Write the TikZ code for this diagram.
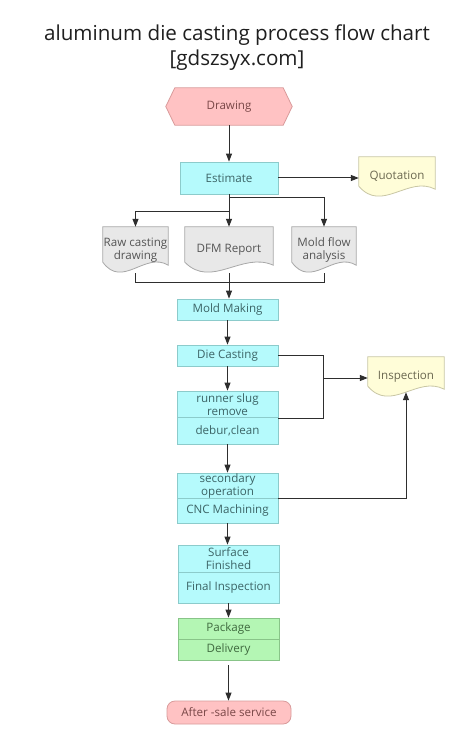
\documentclass[tikz,border=0pt]{standalone}
\usepackage{fontspec}
\setmainfont{Open Sans}
\usetikzlibrary{arrows.meta,calc}
\pgfdeclarelayer{bg}
\pgfsetlayers{bg,main}
\definecolor{pinkF}{HTML}{FFC2C3}
\definecolor{pinkD}{HTML}{D99B9B}
\definecolor{pinkT}{HTML}{7A4848}
\definecolor{cyanF}{HTML}{B5FAFC}
\definecolor{cyanD}{HTML}{8CCBCB}
\definecolor{cyanT}{HTML}{3C6466}
\definecolor{grayF}{HTML}{E8E8E8}
\definecolor{grayD}{HTML}{A8A8A8}
\definecolor{grayT}{HTML}{555555}
\definecolor{yelF}{HTML}{FFFDD8}
\definecolor{yelD}{HTML}{C9C7A5}
\definecolor{yelT}{HTML}{6B6850}
\definecolor{grnF}{HTML}{B4F6B4}
\definecolor{grnD}{HTML}{88C488}
\definecolor{grnT}{HTML}{3F6A3F}
\definecolor{lineC}{HTML}{2E2E2E}
\newcommand\docshape[3]{%
  \begin{pgfonlayer}{bg}
  \path[fill=#2,draw=#3,line width=0.8pt]
    (#1.north west) -- (#1.north east) -- ($(#1.south east)+(0,-8)$)
    .. controls ($(#1.south west)!0.65!(#1.south east)+(0,-22)$)
    and ($(#1.south west)!0.3!(#1.south east)+(0,16)$) .. ($(#1.south west)+(0,-11)$) -- cycle;
  \end{pgfonlayer}}
\tikzset{
  nodefont/.style={font=\fontsize{11.6}{13}\selectfont},
  box/.style={nodefont, draw=cyanD, fill=cyanF, text=cyanT, minimum width=101pt, inner sep=0pt, align=center, line width=0.8pt},
  gbox/.style={nodefont, draw=grnD, fill=grnF, text=grnT, minimum width=101pt, inner sep=0pt, align=center, line width=0.8pt},
  docnode/.style={nodefont, inner sep=0pt, align=center},
  arr/.style={-{Triangle[length=8pt,width=6pt]}, draw=lineC, line width=1pt},
  ln/.style={draw=lineC, line width=1pt},
}
\begin{document}
\begin{tikzpicture}[x=1pt,y=-1pt]
\useasboundingbox (0,0) rectangle (474,743);
\begin{pgfonlayer}{bg}
\fill[white] (0,0) rectangle (474,743);
\end{pgfonlayer}
\node[font=\fontsize{20.6}{25}\selectfont, align=center, text=black!88] (title) at (237,48)
  {aluminum die casting process flow chart\\{[}gdszsyx.com{]}};
% Drawing (hexagon)
\node[nodefont, text=pinkT, minimum width=126pt, minimum height=37pt, inner sep=0pt] (drw) at (229,106.5) {Drawing};
\begin{pgfonlayer}{bg}
\path[fill=pinkF, draw=pinkD, line width=0.8pt]
  ([xshift=9pt]drw.north west) -- ([xshift=-9pt]drw.north east) -- (drw.east)
  -- ([xshift=-9pt]drw.south east) -- ([xshift=9pt]drw.south west) -- (drw.west) -- cycle;
\end{pgfonlayer}
\node[box, minimum width=98pt, minimum height=32pt] (est) at (229,178) {Estimate};
% documents
\node[docnode, text=yelT, minimum width=76pt, minimum height=40pt] (quo) at (397,177) {\raisebox{4pt}{Quotation}};
\docshape{quo}{yelF}{yelD}
\node[docnode, text=grayT, minimum width=65pt, minimum height=46pt] (raw) at (135.5,250) {Raw casting\\drawing};
\docshape{raw}{grayF}{grayD}
\node[docnode, text=grayT, minimum width=88pt, minimum height=46pt] (dfm) at (229,250) {\raisebox{3pt}{DFM Report}};
\docshape{dfm}{grayF}{grayD}
\node[docnode, text=grayT, minimum width=64pt, minimum height=46pt] (mfa) at (324,250) {Mold flow\\analysis};
\docshape{mfa}{grayF}{grayD}
% main column
\node[box, minimum height=21pt] (mm) at (227.5,309.5) {Mold Making};
\node[box, minimum height=21pt] (dc) at (227.5,355.5) {Die Casting};
\node[box, minimum height=27pt] (run) at (227.5,404.5) {runner slug\\remove};
\node[box, minimum height=27pt] (deb) at (227.5,430.5) {debur,clean};
\node[docnode, text=yelT, minimum width=76pt, minimum height=40pt] (ins) at (406,377) {\raisebox{4pt}{Inspection}};
\docshape{ins}{yelF}{yelD}
\node[box, minimum height=25pt] (sec) at (227.5,485.5) {secondary\\operation};
\node[box, minimum height=25pt] (cnc) at (227.5,510.5) {CNC Machining};
\node[box, minimum height=27pt] (sur) at (228.5,558.5) {Surface\\Finished};
\node[box, minimum height=31pt] (fin) at (228.5,587.5) {Final Inspection};
\node[gbox, minimum height=21pt] (pkg) at (228.5,628.5) {Package};
\node[gbox, minimum height=21pt] (del) at (228.5,649.5) {Delivery};
\node[nodefont, text=pinkT, draw=pinkD, fill=pinkF, line width=0.8pt, rounded corners=8pt,
  minimum width=124pt, minimum height=23pt, inner sep=0pt] (as) at (229,712.5) {After -sale service};
% connectors
\draw[arr] (drw.south) -- (est.north);
\draw[arr] (est.east) -- (est.east -| quo.west);
\draw[arr] (est.south) -- ++(0,3) -| (mfa.north);
\draw[arr] (est.south) -- ++(0,17) -| (raw.north);
\draw[arr] (est.south) -- (dfm.north);
\coordinate (j) at (229,282);
\draw[ln] (raw.south) -- (raw.south |- j) -- (mfa.south |- j) -- (mfa.south);
\draw[ln] (dfm.south) -- (dfm.south |- j);
\draw[arr] (j) -- (j |- mm.north);
\draw[arr] (mm.south) -- (dc.north);
\draw[arr] (dc.south) -- (run.north);
\coordinate (k) at (323,378);
\draw[ln] (dc.east) -| (k |- run.south east) -- (run.south east);
\draw[arr] (k) -- (k -| ins.west);
\draw[arr] (deb.south) -- (sec.north);
\draw[arr] (sec.south east) -| ([yshift=5pt]ins.south);
\draw[arr] (cnc.south) -- (cnc.south |- sur.north);
\draw[arr] (fin.south) -- (pkg.north);
\draw[arr] ([yshift=-5pt]del.south) -- (del.south |- as.north);
\end{tikzpicture}
\end{document}
